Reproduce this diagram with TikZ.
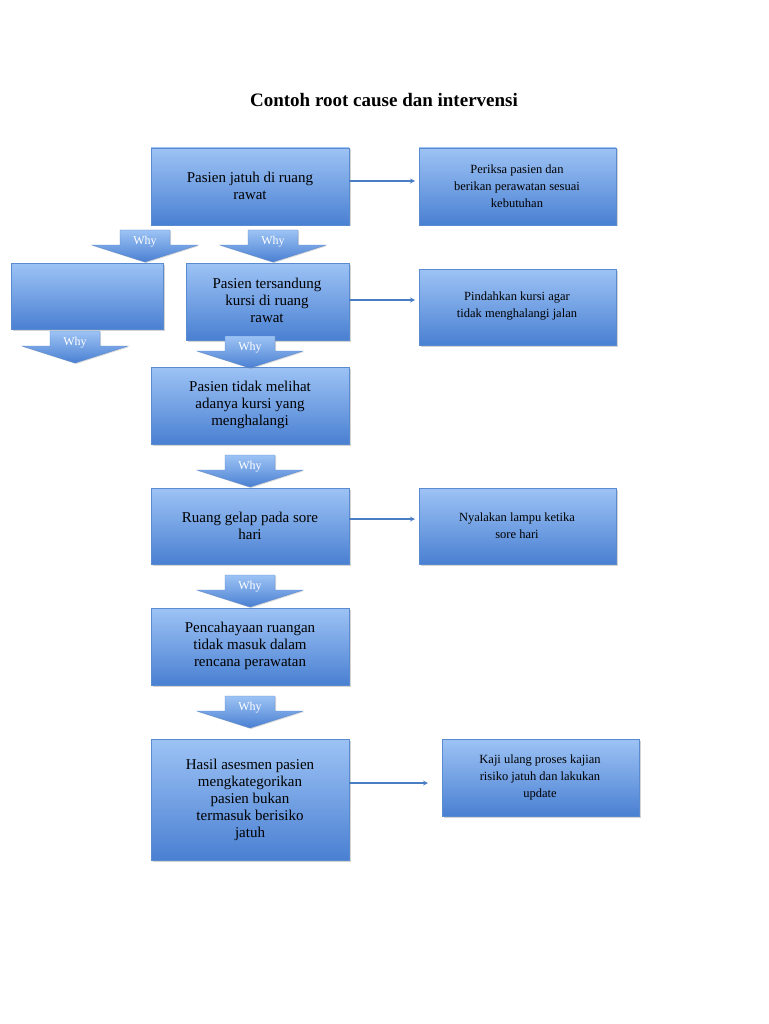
\documentclass[tikz,border=0pt]{standalone}
\usepackage{fontspec}
\setmainfont{Liberation Serif}
\usetikzlibrary{shadows}
\definecolor{btop}{HTML}{9DC3F5}
\definecolor{bbot}{HTML}{4A80D2}
\definecolor{bline}{HTML}{5A8AD0}
\definecolor{aline}{HTML}{4A7EC4}
\begin{document}
\begin{tikzpicture}[x=1pt,y=-1pt,
 box/.style={draw=bline,top color=btop,bottom color=bbot,drop shadow={opacity=0.35,shadow xshift=1.5pt,shadow yshift=-1.5pt},align=center,inner sep=2pt},
 big/.style={font=\fontsize{15}{17}\selectfont},
 small/.style={font=\fontsize{12.5}{17}\selectfont},
 why/.style={draw=bline,top color=btop,bottom color=bbot,drop shadow={opacity=0.3,shadow xshift=1pt,shadow yshift=-1pt}},
 conn/.style={draw=aline,line width=1.2pt,-stealth}]
\useasboundingbox (0,0) rectangle (768,1024);
\node[font=\bfseries\fontsize{19}{22}\selectfont] (title) at (384,100) {Contoh root cause dan intervensi};
\newcommand\bx[6]{\node[box,#6,minimum width=#3-#1,minimum height=#4-#2,text width=#3-#1-14] (#5) at ({(#1+#3)/2},{(#2+#4)/2}) {};}
\bx{151}{148}{349}{225}{b1}{big}
\bx{419}{148}{616}{225}{r1}{small}
\bx{11}{263}{163}{329}{bl}{big}
\bx{186}{263}{349}{340}{b2}{big}
\bx{419}{269}{616}{345}{r2}{small}
\bx{151}{367}{349}{444}{b3}{big}
\bx{151}{488}{349}{564}{b4}{big}
\bx{419}{488}{616}{564}{r4}{small}
\bx{151}{608}{349}{685}{b5}{big}
\bx{151}{739}{349}{860}{b6}{big}
\bx{442}{739}{639}{816}{r6}{small}
\newcommand\why[3]{%
 \path[why] (#1-25,#2) -- (#1+25,#2) -- (#1+25,#2+15) -- (#1+53,#2+15) -- (#1,#2+32) -- (#1-53,#2+15) -- (#1-25,#2+15) -- cycle;
 \node[text=white,font=\fontsize{12}{14}\selectfont] (#3) at (#1,#2+12) {Why};}
\why{145}{230}{w1}
\why{273}{230}{w2}
\why{75}{331}{w3}
\why{250}{336}{w4}
\why{250}{455}{w5}
\why{250}{575}{w6}
\why{250}{696}{w7}
\node[big,align=center] (t1) at (250,186) {Pasien jatuh di ruang\\rawat};
\node[small,align=center] (s1) at (517,186) {Periksa pasien dan\\berikan perawatan sesuai\\kebutuhan};
\node[big,align=center] (t2) at (267,300) {Pasien tersandung\\kursi di ruang\\rawat};
\node[small,align=center] (s2) at (517,306) {Pindahkan kursi agar\\tidak menghalangi jalan};
\node[big,align=center] (t3) at (250,405) {Pasien tidak melihat\\adanya kursi yang\\menghalangi};
\node[big,align=center] (t4) at (250,526) {Ruang gelap pada sore\\hari};
\node[small,align=center] (s4) at (517,526) {Nyalakan lampu ketika\\sore hari};
\node[big,align=center] (t5) at (250,646) {Pencahayaan ruangan\\tidak masuk dalam\\rencana perawatan};
\node[big,align=center] (t6) at (250,800) {Hasil asesmen pasien\\mengkategorikan\\pasien bukan\\termasuk berisiko\\jatuh};
\node[small,align=center] (s6) at (540,777) {Kaji ulang proses kajian\\risiko jatuh dan lakukan\\update};
\coordinate (e1) at (415,181); \draw[conn] (b1.east|-e1) -- (e1);
\coordinate (e2) at (415,300); \draw[conn] (b2.east|-e2) -- (e2);
\coordinate (e4) at (415,519); \draw[conn] (b4.east|-e4) -- (e4);
\coordinate (e6) at (428,783); \draw[conn] (b6.east|-e6) -- (e6);
\end{tikzpicture}
\end{document}
